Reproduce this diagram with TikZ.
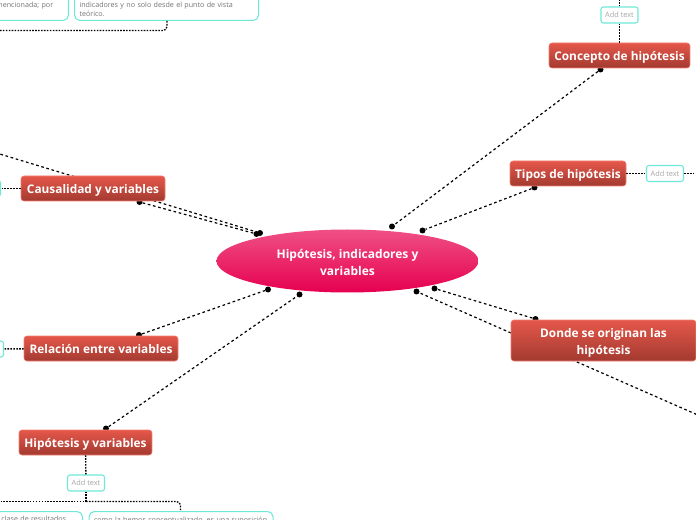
\documentclass[tikz,border=0pt]{standalone}
\usepackage{fontspec}
\setmainfont{Open Sans}
\usetikzlibrary{shapes.geometric}
\definecolor{topiclight}{HTML}{E5574A}
\definecolor{topicdark}{HTML}{A33A30}
\definecolor{topicedge}{HTML}{EE8074}
\definecolor{mainlight}{HTML}{EF5085}
\definecolor{maindark}{HTML}{E6004F}
\definecolor{noteedge}{HTML}{6FE8D8}
\tikzset{
  mainnode/.style={ellipse,minimum width=196.5pt,minimum height=47.25pt,inner sep=0pt,top color=mainlight,bottom color=maindark,text=white,font=\bfseries\fontsize{9}{12.75}\selectfont,align=center},
  topic/.style={rectangle,rounded corners=2.2pt,draw=topicedge,line width=.4pt,top color=topiclight,bottom color=topicdark,text=white,font=\bfseries\fontsize{8.9}{12.75}\selectfont,align=center,minimum height=18.75pt,inner sep=0pt,text height=8pt,text depth=1pt},
  addtext/.style={rectangle,rounded corners=1.8pt,draw=noteedge,line width=.8pt,fill=white,text=black!35,font=\fontsize{5.5}{6.5}\selectfont,minimum width=27.75pt,minimum height=12pt,inner sep=0pt,text height=4.4pt,text depth=.6pt},
  note/.style={rectangle,rounded corners=4pt,draw=noteedge,line width=.8pt,fill=white,text=black!55,font=\fontsize{5.35}{6.5}\selectfont,align=left,text width=130.5pt,inner sep=3.75pt},
  dot/.style={circle,fill=black,minimum size=4.5pt,inner sep=0pt},
  link/.style={draw=black,line width=.9pt,dash pattern=on 2pt off 2pt},
  stub/.style={draw=black,line width=1pt,dash pattern=on 1.2pt off 1pt}
}
\begin{document}
\begin{tikzpicture}[x=.75pt,y=-.75pt]
\clip (0,0) rectangle (696,520);
\coordinate (causaend) at (-20,148);
\coordinate (dondeend) at (716,423);
\coordinate (topend) at (619.5,-10);
\coordinate (tiposend) at (716,173.5);
\coordinate (botleft) at (-20,501.5);
\coordinate (topleft) at (-20,30.5);
\node[dot] (d1) at (600.5,69.5) {};
\node[dot] (d2) at (392,226.5) {};
\node[dot] (d3) at (534.5,187.5) {};
\node[dot] (d4) at (422.5,230.5) {};
\node[dot] (d5) at (139.5,202) {};
\node[dot] (d6) at (256.5,234) {};
\node[dot] (d7) at (260,233) {};
\node[dot] (d8) at (535.5,319) {};
\node[dot] (d9) at (434.5,288.5) {};
\node[dot] (d10) at (416.5,291.5) {};
\node[dot] (d11) at (139,335) {};
\node[dot] (d12) at (268,289.5) {};
\node[dot] (d13) at (106,428.5) {};
\node[dot] (d14) at (299.5,294.5) {};
\draw[link] (d1) -- (d2);
\draw[link] (d3) -- (d4);
\draw[link] (d5) -- (d6);
\draw[link] (causaend) -- (d7);
\draw[link] (d8) -- (d9);
\draw[link] (dondeend) -- (d10);
\draw[link] (d11) -- (d12);
\draw[link] (d13) -- (d14);
\node[mainnode] (main) at (347.5,261) {\rule{0pt}{9.5pt}Hipótesis, indicadores y\\variables};
\node[topic,minimum width=105.75pt] (concepto) at (619.5,55.5) {Concepto de hipótesis};
\node[topic,minimum width=87pt] (tipos) at (568,173.5) {Tipos de hipótesis};
\node[topic,minimum width=108pt] (causa) at (93,188.5) {Causalidad y variables};
\node[topic,minimum width=115.5pt] (relacion) at (101,348.5) {Relación entre variables};
\node[topic,minimum width=99.75pt] (hipvar) at (85.5,442.5) {Hipótesis y variables};
\node[topic,minimum width=138.75pt,minimum height=30.75pt,text height=,text depth=] (donde) at (603.5,340.5) {\rule{0pt}{11pt}Donde se originan las\\hipótesis};
\node[addtext] (add1) at (619.5,15) {Add text};
\node[addtext] (add2) at (665,173.5) {Add text};
\node[addtext] (add3) at (86,483) {Add text};
\node[addtext] (add4) at (-18,188.5) {};
\node[addtext] (add5) at (-15,349) {};
\node[note,anchor=south east,inner ysep=3pt] (note1) at (69,21) {~\\~\\\hspace*{80pt}mencionada; por\\~};
\node[note,anchor=south west,inner ysep=3pt] (note2) at (74,21) {~\\~\\indicadores y no solo desde el punto de vista\\teórico.};
\node[note,anchor=north east] (note3) at (83,511) {\hspace*{73.5pt}clase de resultados\\~\\~};
\node[note,anchor=north west] (note4) at (88.5,511) {como la hemos conceptualizado, es una suposición\\~\\~};
\coordinate (join1) at (86,501.5);
\draw[stub] (add1) -- (topend);
\draw[stub] (concepto) -- (add1);
\draw[stub] (tipos) -- (add2);
\draw[stub] (add2) -- (tiposend);
\draw[stub] (causa) -- (add4);
\draw[stub] (relacion) -- (add5);
\draw[stub] (hipvar) -- (add3);
\draw[stub] (add3) -- (join1);
\draw[stub] (botleft) -- (join1);
\draw[stub,rounded corners=3pt] (join1) -| (note4.north -| 180.5,0);
\draw[stub,rounded corners=3pt] (note2.south -| 167,0) |- (topleft);
\end{tikzpicture}
\end{document}
